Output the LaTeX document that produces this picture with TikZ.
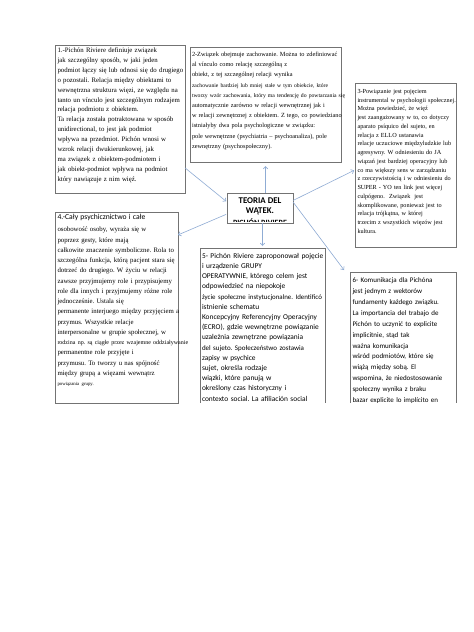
\documentclass[tikz,border=0pt]{standalone}
\usepackage{fontspec}
\setmainfont{Liberation Serif}
\newfontfamily\calib{Carlito}
\usetikzlibrary{arrows.meta,calc}
\definecolor{linkblue}{RGB}{143,172,212}
\definecolor{boxgray}{RGB}{115,115,115}
\newcommand\Jw[2]{\makebox[#1][s]{#2}}
\newcommand\fs[2]{\fontsize{#1}{#2}\selectfont}
\frenchspacing
\begin{document}
\begin{tikzpicture}[x=1pt,y=-1pt,
  boxframe/.style={draw=boxgray, line width=0.6pt, anchor=north west, inner sep=0pt, outer sep=0pt},
  boxtext/.style={anchor=north west, inner sep=0pt, outer sep=0pt, align=left, execute at begin node=\frenchspacing},
  link/.style={draw=linkblue, line width=0.6pt, -{Straight Barb[length=2.5pt,width=4.5pt]}}]
\useasboundingbox (0,0) rectangle (474,632);
\fill[white] (0,0) rectangle (474,632);

% Box 1
\node[boxframe, minimum width=130pt, minimum height=148pt] (b1) at (55,45) {};
\node[boxtext, text width=170pt, font=\fs{6.8}{9.9}] (t1) at (57.5,45.5) {\rule{0pt}{7pt}1.-Pichón Riviere definiuje związek\\
jak szczególny sposób, w jaki jeden\\
podmiot łączy się lub odnosi się do drugiego\\
o pozostali. Relacja między obiektami to\\
wewnętrzna struktura więzi, ze względu na\\
tanto un vínculo jest szczególnym rodzajem\\
relacja podmiotu z obiektem.\\
\Jw{125pt}{Ta relacja została potraktowana w sposób}\\
unidirectional, to jest jak podmiot\\
wpływa na przedmiot. Pichón wnosi w\\
wzrok relacji dwukierunkowej, jak\\
\Jw{125pt}{ma związek z obiektem-podmiotem i}\\
jak obiekt-podmiot wpływa na podmiot\\
który nawiązuje z nim więź.};

% Box 2
\node[boxframe, minimum width=151pt, minimum height=115pt] (b2) at (190,47) {};
\node[boxtext, text width=200pt, font=\fs{6.3}{10.2}] (t2) at (192,49.5) {\rule{0pt}{7pt}2-Związek obejmuje zachowanie. Można to zdefiniować\\
al vínculo como relację szczególną z\\
obiekt, z tej szczególnej relacji wynika\\
{\fs{5.6}{10.2}zachowanie bardziej lub mniej stałe w tym obiekcie, które}\\
{\fs{5.7}{10.2}tworzy wzór zachowania, który ma tendencję do powtarzania się}\\
automatycznie zarówno w relacji wewnętrznej jak i\\
w relacji zewnętrznej z obiektem. Z tego, co powiedziano\\
istniałyby dwa pola psychologiczne w związku:\\
pole wewnętrzne (psychiatria – psychoanaliza), pole\\
zewnętrzny (psychospołeczny).};

% Box 3
\node[boxframe, minimum width=101pt, minimum height=164pt] (b3) at (355,83) {};
\node[boxtext, text width=140pt, font=\fs{6.2}{8.75}] (t3) at (357.5,86.4) {\rule{0pt}{7pt}3-Powiązanie jest pojęciem\\
instrumental w psychologii społecznej.\\
Można powiedzieć, że więź\\
jest zaangażowany w to, co dotyczy\\
aparato psíquico del sujeto, en\\
relacja z ELLO ustanawia\\
relacje uczuciowe międzyludzkie lub\\
agresywny. W odniesieniu do JA\\
wiązań jest bardziej operacyjny lub\\
co ma większy sens w zarządzaniu\\
z rzeczywistością i w odniesieniu do\\
SUPER - YO ten link jest więcej\\
culpógeno.\ \ Związek\ \ jest\\
skomplikowane, ponieważ jest to\\
relacja trójkątna, w której\\
trzecim z wszystkich więzów jest\\
kultura.};

% Box 4
\node[boxframe, minimum width=123pt, minimum height=191pt] (b4) at (55,212) {};
\node[boxtext, text width=170pt, font=\fs{6.8}{10.25}] (t4) at (57.5,213.6) {\rule{0pt}{6pt}{\calib\fs{7.6}{10.25}4.-Cały psychicznictwo i całe}\\[2pt]
osobowość osoby, wyraża się w\\
poprzez gesty, które mają\\
całkowite znaczenie symboliczne. Rola to\\
szczególna funkcja, którą pacjent stara się\\
dotrzeć do drugiego. W życiu w relacji\\
zawsze przyjmujemy role i przypisujemy\\
role dla innych i przyjmujemy różne role\\
jednocześnie. Ustala się\\
permanente interjuego między przyjęciem a\\
przymus. Wszystkie relacje\\
interpersonalne w grupie społecznej, w\\
{\fs{6}{10.25}rodzina np. są ciągłe przez wzajemne oddziaływanie}\\
permanentne role przyjęte i\\
przymusu. To tworzy u nas spójność\\
między grupą a więzami wewnątrz\\
{\fs{4.8}{10.25}powiązania grupy.}};

% Centre
\node[boxframe, minimum width=66pt, minimum height=30pt] (ctr) at (227,193) {};
\node[anchor=north, inner sep=0pt, align=center, font=\calib\bfseries\fs{8.8}{9.3}] (ctrt) at (260,196.5) {\rule{0pt}{7pt}TEORIA DEL\\WĄTEK.};
\begin{scope}
\clip (227,193) rectangle (293,221);
\node[anchor=base, inner sep=0pt, font=\calib\bfseries\fs{8}{9}] (ctrc) at (260,225.5) {PICHÓN RIVIERE};
\end{scope}

% Boxes 5 and 6 (cut at the bottom)
\begin{scope}
\clip (0,0) rectangle (474,402);
\node[boxframe, minimum width=125pt, minimum height=180pt] (b5) at (200,248) {};
\node[boxtext, text width=170pt, font=\calib\fs{7.4}{10.2}] (t5) at (202,251.2) {\rule{0pt}{7pt}5- Pichón Riviere zaproponował pojęcie\\
i urządzenie GRUPY\\
\Jw{111pt}{OPERATYWNIE, którego celem jest}\\
odpowiedzieć na niepokoje\\
{\fs{6.9}{10.2}życie społeczne instytucjonalne. Identificó}\\
istnienie schematu\\
Koncepcyjny Referencyjny Operacyjny\\
(ECRO), gdzie wewnętrzne powiązanie\\
\Jw{117pt}{uzależnia zewnętrzne powiązania}\\
{\fs{7}{10.2}del sujeto. Społeczeństwo zostawia}\\
zapisy w psychice\\
sujet, określa rodzaje\\
wiązki, które panują w\\
określony czas historyczny i\\
contexto social. La afiliación social};
\node[boxframe, minimum width=106pt, minimum height=160pt] (b6) at (350,272) {};
\node[boxtext, text width=150pt, font=\calib\fs{7}{10.9}] (t6) at (352.5,275.6) {\rule{0pt}{7pt}6- Komunikacja dla Pichóna\\
jest jednym z wektorów\\
fundamenty każdego związku.\\
La importancia del trabajo de\\
Pichón to uczynić to explicite\\
implicitnie, stąd tak\\
ważna komunikacja\\
wśród podmiotów, które się\\
wiążą między sobą. El\\
wspomina, że niedostosowanie\\
\Jw{85pt}{społeczny wynika z braku}\\
bazar explicite lo implícito en};
\end{scope}

% Connectors
\draw[link, shorten >=1pt] ($(b1.north east)!0.83!(b1.south east)$) -- ($(ctr.north west)!0.3!(ctr.south west)$);
\draw[link, shorten <=1pt] ($(ctr.north west)!0.7!(ctr.south west)$) -- ($(b4.north east)!0.12!(b4.south east)$);
\draw[link, shorten >=4pt] (ctr.north -| b2.south) -- (b2.south);
\draw[link, shorten >=1pt] ($(ctr.north east)!0.25!(ctr.south east)$) -- ($(b3.north west)!0.53!(b3.south west)$);
\draw[link, shorten >=2pt] (ctr.south -| b5.north) -- (b5.north);
\draw[link] ($(ctr.north east)!0.3!(ctr.south east)$) -- ($(b6.north west)+(-6,-2)$);
\end{tikzpicture}
\end{document}
